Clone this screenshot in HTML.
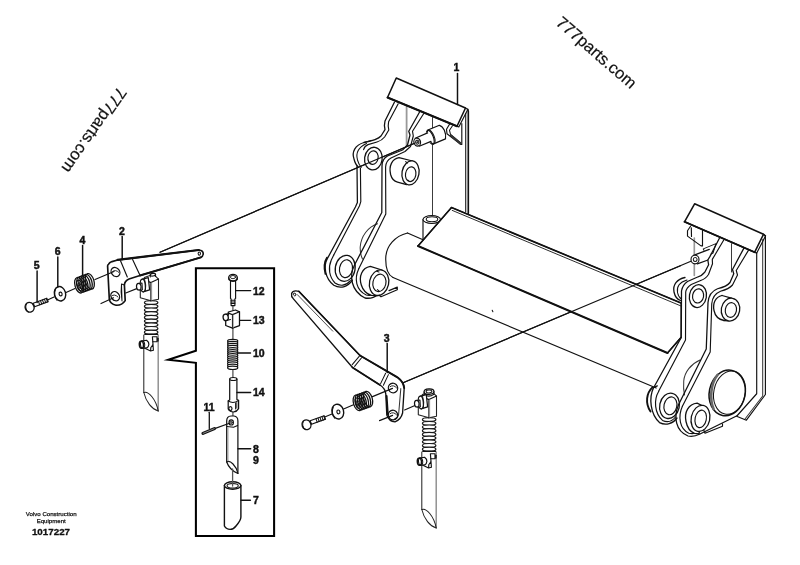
<!DOCTYPE html>
<html><head><meta charset="utf-8"><title>1017227</title>
<style>
html,body{margin:0;padding:0;background:#fff;}
body{width:800px;height:565px;overflow:hidden;font-family:"Liberation Sans",sans-serif;}
svg{display:block;will-change:transform;transform:translateZ(0);}
svg text{font-family:"Liberation Sans",sans-serif;fill:#111;}
</style></head><body>
<svg width="800" height="565" viewBox="0 0 800 565" stroke-linecap="round" stroke-linejoin="round">
<rect x="0" y="0" width="800" height="565" fill="#fff"/>
<path d="M416.5,142.5 L160,252.2" stroke="#111" stroke-width="1.15" fill="none" />
<path d="M691.5,261 L402.5,383" stroke="#111" stroke-width="1.15" fill="none" />
<path d="M406.6,106 L406.6,146" stroke="#999" stroke-width="1.79" fill="none" />
<path d="M432.5,117.5 L432.5,215.5" stroke="#333" stroke-width="0.96" fill="none" />
<path d="M467.8,109.4 L468.3,111.2 L468.3,213.3" stroke="#111" stroke-width="1.66" fill="none" />
<path d="M465.7,113.5 L465.7,212" stroke="#222" stroke-width="1.15" fill="none" />
<path d="M396.25,78 L465.5,108 L457,126.25 L387.5,97.5 Z" stroke="#111" stroke-width="1.54" fill="#fff"/>
<path d="M387.5,97.5 L457,126.25" stroke="#111" stroke-width="1.92" fill="none" />
<path d="M465.5,108 L467.8,109.4 L458.8,127 L457,126.25" stroke="#111" stroke-width="1.15" fill="none" />
<path d="M449.5,124.2 L446.5,129.3 L447,133.8 L460.6,144.4 L461.8,144.4 L461.8,123.5" stroke="#111" stroke-width="1.15" fill="none" />
<path d="M452.5,125.8 L449.5,130.3 L450.5,134.3 L460.8,142.8" stroke="#111" stroke-width="1.02" fill="none" />
<path d="M451,135.5 L460.5,143.6" stroke="#333" stroke-width="2.05" fill="none" />
<path d="M427.3,130.3 L439.4,125.3 C 443.5,126.5 446.5,133 445.5,138.9 L432.3,144.4 Z" stroke="#111" stroke-width="1.22" fill="#fff"/>
<ellipse cx="430.3" cy="137.3" rx="3.0" ry="7.4" stroke="#111" stroke-width="1.15" fill="#fff" transform="rotate(-22 430.3 137.3)"/>
<ellipse cx="431.2" cy="137.0" rx="3.0" ry="7.4" stroke="#111" stroke-width="1.02" fill="none" transform="rotate(-22 431.2 137.0)"/>
<path d="M415.2,138.2 L427.6,132.9 L431.0,141.4 L419.2,146.2 Z" stroke="#fff" stroke-width="1.15" fill="#fff"/>
<path d="M415.2,138.2 L427.6,132.9 M419.2,146.2 L431.0,141.4" stroke="#111" stroke-width="1.22" fill="none" />
<ellipse cx="417.2" cy="142.1" rx="3.3" ry="4.0" stroke="#111" stroke-width="1.22" fill="#fff" transform="rotate(-15 417.2 142.1)"/>
<ellipse cx="417.3" cy="142.2" rx="1.7" ry="2.0" stroke="#111" stroke-width="1.02" fill="none" transform="rotate(-15 417.3 142.2)"/>
<ellipse cx="417.3" cy="142.2" rx="0.6" ry="0.7" stroke="#111" stroke-width="0.9" fill="none"/>
<path d="M394.4,102.2 L385,121 L384.4,125.6 L385,129.6 L381,136 Q377.5,140 364,142.5" stroke="#111" stroke-width="1.28" fill="none" />
<path d="M398.2,103.8 L388.6,121.8 L388.2,126 L388.8,130 L384.6,137 Q381.8,140.6 377,142 L368,144.6 Q364.6,146 363.6,149.6" stroke="#111" stroke-width="1.15" fill="none" />
<path d="M371,140.5 L364,142.5 C 355,145 351.5,152 354,159 C 355,163 356.5,165.5 358,166.5" stroke="#111" stroke-width="1.28" fill="none" />
<path d="M366.5,143.5 C 359,147 355.5,153 357.5,160 C 358.5,163.5 360,166 361.2,167.5" stroke="#111" stroke-width="1.02" fill="none" />
<ellipse cx="373.4" cy="158.6" rx="8.8" ry="11.4" stroke="#111" stroke-width="1.28" fill="#fff" transform="rotate(8 373.4 158.6)"/>
<ellipse cx="373.0" cy="157.6" rx="5.1" ry="6.8" stroke="#111" stroke-width="1.15" fill="none" transform="rotate(8 373.0 157.6)"/>
<path d="M357,166.5 L357.4,202.5 L355.4,207 L328.5,256.5" stroke="#111" stroke-width="1.28" fill="none" />
<path d="M360.4,168 L360.8,201.6 L359.4,206 L333.75,255" stroke="#111" stroke-width="1.15" fill="none" />
<path d="M328.5,256.5 L327.3,258.8 C 323.3,266 324.8,278 333.8,285.3 C 340,288.8 347.5,287.4 352.4,280.2" stroke="#111" stroke-width="1.28" fill="none" />
<path d="M333.75,255 L331.3,260 C 327.8,268 329.3,277 335,283 C 340,286.6 346,285.8 350.4,280.6" stroke="#111" stroke-width="1.15" fill="none" />
<path d="M327,257.5 C 324.2,262 323.8,268 325.4,274" stroke="#111" stroke-width="1.66" fill="none" />
<ellipse cx="345.2" cy="268.3" rx="9.9" ry="13.1" stroke="#111" stroke-width="1.28" fill="none" transform="rotate(10 345.2 268.3)"/>
<ellipse cx="346" cy="268.7" rx="6.5" ry="9.0" stroke="#111" stroke-width="1.15" fill="none" transform="rotate(10 346 268.7)"/>
<path d="M377.5,223.75 C 368,227 361,236 360.2,247 C 360,252 361,256 362.5,259" stroke="#333" stroke-width="1.02" fill="none" />
<path d="M420,111.25 L408.75,131.25 L410,135 L407.5,145 L402.5,150 L387.5,156 Q382,159 382,166 L381.8,212.5 L354.5,265" stroke="#111" stroke-width="1.28" fill="none" />
<path d="M423.75,113.5 L412.5,131.25 L413.3,136 L410.5,146.5 L405,151.5 L391,158 Q385.8,161 385.6,167 L385.8,214 L358.75,268.75" stroke="#111" stroke-width="1.15" fill="none" />
<path d="M354.5,265 C 349,276 351,291 365,298 C 371,299 375,297 378,294.5" stroke="#111" stroke-width="1.28" fill="none" />
<path d="M358.75,268.75 C 354,279 356,290 366.25,295 C 370,296 373,295 375.5,293.5" stroke="#111" stroke-width="1.15" fill="none" />
<path d="M370.3,266.4 C 362,268 358.6,276 361.3,285 C 363,290.5 366.5,294 371.5,295.4 L377,295.6 L382,270 Z" stroke="#111" stroke-width="1.28" fill="#fff"/>
<ellipse cx="379.1" cy="282.7" rx="9.6" ry="12.9" stroke="#111" stroke-width="1.28" fill="#fff" transform="rotate(12 379.1 282.7)"/>
<ellipse cx="379.4" cy="282.9" rx="6.5" ry="8.8" stroke="#111" stroke-width="1.15" fill="none" transform="rotate(12 379.4 282.9)"/>
<path d="M376.6,271.2 l2.4,0.8 M377.4,289.6 l1.6,1.2" stroke="#111" stroke-width="1.02" fill="none" />
<path d="M379.1,295.3 L381,296.8 L397.3,289.8 L397.3,287.1 L389,290.6" stroke="#111" stroke-width="1.15" fill="none" />
<path d="M399,157.7 C 392,159 388.6,166 390.6,174.5 C 391.8,179 394.5,181.4 397.5,182.2 L406.6,184.6 L412.5,161 Z" stroke="#111" stroke-width="1.28" fill="#fff"/>
<ellipse cx="410.5" cy="172.9" rx="8.5" ry="12.1" stroke="#111" stroke-width="1.28" fill="#fff" transform="rotate(10 410.5 172.9)"/>
<ellipse cx="410.7" cy="174.2" rx="5.2" ry="7.4" stroke="#111" stroke-width="1.15" fill="none" transform="rotate(10 410.7 174.2)"/>
<path d="M405.6,161.6 l2,1.4 M407.6,180 l1.6,1.2" stroke="#111" stroke-width="1.02" fill="none" />
<path d="M407.5,233 C 395,236 386,246 385.75,258 C 385.5,268 388,275 393,277.5" stroke="#111" stroke-width="1.15" fill="none" />
<path d="M407.5,233 L423,239.7" stroke="#111" stroke-width="1.15" fill="none" />
<path d="M393,277.5 L656.2,388" stroke="#111" stroke-width="1.15" fill="none" />
<path d="M423,219.5 L423,239.7 M440.5,219.5 L440.5,221" stroke="#111" stroke-width="1.15" fill="none" />
<ellipse cx="431.75" cy="219.5" rx="8.75" ry="4.0" stroke="#111" stroke-width="1.15" fill="#fff"/>
<ellipse cx="432" cy="219.3" rx="5.8" ry="2.5" stroke="#111" stroke-width="1.02" fill="none"/>
<path d="M451.5,207.5 L681,303 L681,337.5 L667.5,353 L418,246 Z" stroke="#111" stroke-width="1.15" fill="#fff"/>
<path d="M418,246 L667.5,353" stroke="#111" stroke-width="1.92" fill="none" />
<path d="M451.5,207.5 L681,303" stroke="#111" stroke-width="1.66" fill="none" />
<path d="M452.2,210.4 L681,306" stroke="#222" stroke-width="0.96" fill="none" />
<path d="M451.5,207.5 L418,246" stroke="#111" stroke-width="1.41" fill="none" />
<path d="M667.5,353 L681,337.5" stroke="#111" stroke-width="1.41" fill="none" />
<path d="M680.5,265.7 L402.5,383" stroke="#111" stroke-width="1.15" fill="none" />
<path d="M492.2,310.3 l0.7,1.5" stroke="#111" stroke-width="1.02" fill="none" />
<path d="M694.3,238 L694.3,275.5" stroke="#999" stroke-width="1.66" fill="none" />
<path d="M731.5,243.6 L731.5,272" stroke="#333" stroke-width="0.96" fill="none" />
<path d="M756.7,252.6 L756.7,393.75 L737.3,415.5" stroke="#111" stroke-width="1.15" fill="none" />
<path d="M762.7,239.4 L762.7,396 L745.2,418.8" stroke="#333" stroke-width="1.02" fill="none" />
<path d="M763.5,234.3 L765.4,236 L765.4,394.5 L746.4,420.2 L736.6,416.2" stroke="#111" stroke-width="1.15" fill="none" />
<path d="M694.6,203.8 L763.5,234.3 L754.7,252.2 L684.5,221.8 Z" stroke="#111" stroke-width="1.54" fill="#fff"/>
<path d="M684.5,221.8 L754.7,252.2" stroke="#111" stroke-width="1.79" fill="none" />
<path d="M763.5,234.3 L765.6,235.8 L756.6,253.2 L754.7,252.2" stroke="#111" stroke-width="1.15" fill="none" />
<path d="M690.5,226.3 L687.5,230.8 L687.5,236.1 L701,245.9 L702.5,245.9 L702.5,230 M691.3,227.8 L691.5,236.5" stroke="#111" stroke-width="1.15" fill="none" />
<path d="M703.3,248.9 L716,243.6 L713,253 L707,256 Z" stroke="#111" stroke-width="1.02" fill="#fff"/>
<path d="M693.5,255.4 L709.3,249.4 L710.5,257.5 L708,260 L697.3,263.9 Z" stroke="#fff" stroke-width="1.15" fill="#fff"/>
<path d="M693.5,255.4 L709.3,249.4 M697.3,263.9 L708,260" stroke="#111" stroke-width="1.22" fill="none" />
<ellipse cx="695" cy="259.5" rx="4.0" ry="4.3" stroke="#111" stroke-width="1.15" fill="#fff"/>
<ellipse cx="695.2" cy="259.6" rx="1.9" ry="2.0" stroke="#111" stroke-width="1.02" fill="none"/>
<path d="M719.4,238.3 L710,256.4 L707.8,260 L708.6,264.7 L704.8,272.2 Q702,276 696.5,277.5 L687.5,281.5 Q682.5,285 681.5,291 L681.25,337.5 L653.75,387.5" stroke="#111" stroke-width="1.28" fill="none" />
<path d="M723.6,240.3 L712.3,259.4 L712.5,263.75 L708.5,274.5 Q705.5,279 701.25,280.2 L691.25,284.5 Q686.5,287.5 685.7,292 L685.5,340 L658.75,391" stroke="#111" stroke-width="1.15" fill="none" />
<path d="M685,277.5 C 677,279 672.5,285 674,292 C 675,296.5 677.5,299.5 680.5,300.5" stroke="#111" stroke-width="1.28" fill="none" />
<path d="M687,280 C 680,282 676.5,286.5 677.5,292.5 C 678.2,296 679.8,298 681.3,299" stroke="#111" stroke-width="1.02" fill="none" />
<ellipse cx="697.9" cy="296.1" rx="8.5" ry="11.5" stroke="#111" stroke-width="1.28" fill="#fff" transform="rotate(10 697.9 296.1)"/>
<ellipse cx="698.1" cy="295.9" rx="5.5" ry="7.1" stroke="#111" stroke-width="1.15" fill="none" transform="rotate(10 698.1 295.9)"/>
<path d="M657.3,385.8 L653.6,387.6 C 648.5,398 650.5,414.5 659.5,422.6 C 666,426 673,423.5 677,418" stroke="#111" stroke-width="1.28" fill="none" />
<path d="M658.75,391.25 C 653.5,400 654.5,413 662.5,420.4 C 667,422.6 672,421.4 675.5,417" stroke="#111" stroke-width="1.15" fill="none" />
<path d="M652.4,387.4 C 646.5,393 644.9,403 650.5,411.6" stroke="#111" stroke-width="1.92" fill="none" />
<ellipse cx="669.5" cy="405.8" rx="9.8" ry="12.8" stroke="#111" stroke-width="1.28" fill="none" transform="rotate(12 669.5 405.8)"/>
<ellipse cx="670.4" cy="405.8" rx="6.4" ry="9.0" stroke="#111" stroke-width="1.15" fill="none" transform="rotate(12 670.4 405.8)"/>
<path d="M700,360 C 691,364 684.5,372 683.75,381 C 683.3,387 683.6,391 684.5,395" stroke="#333" stroke-width="1.02" fill="none" />
<path d="M743.9,248.1 L732.5,269.5 L733.75,273.75 L730,282.5 Q727,286.5 717.5,288.75 Q709,292 708,302.5 L706.25,349 L678.4,405" stroke="#111" stroke-width="1.28" fill="none" />
<path d="M748.4,250.4 L736.25,270.5 L737.5,275 L732.5,285 Q729,289 720.5,291.25 Q712.5,294.5 711.75,303.75 L710.2,352 L682.4,406.25" stroke="#111" stroke-width="1.15" fill="none" />
<path d="M678.4,405 C 673.5,417 675.5,431 688,436 C 692,437 696,436 700,434 L737,415.8" stroke="#111" stroke-width="1.28" fill="none" />
<path d="M682.4,406.25 C 677.6,417 679.8,429 688.75,433.25 C 692,434 695.5,433.5 698.75,432.5" stroke="#111" stroke-width="1.15" fill="none" />
<path d="M697.1,403.1 C 688.5,404 684,412 686,421.5 C 687.2,427.5 690,431.6 694.5,433.4 L699,433.8 L703,406 Z" stroke="#111" stroke-width="1.28" fill="#fff"/>
<ellipse cx="700.5" cy="418.4" rx="9.3" ry="13.2" stroke="#111" stroke-width="1.28" fill="#fff" transform="rotate(12 700.5 418.4)"/>
<ellipse cx="700.7" cy="418.9" rx="5.6" ry="8.9" stroke="#111" stroke-width="1.15" fill="none" transform="rotate(12 700.7 418.9)"/>
<path d="M703.75,430 L705,433.25 L722.5,426.25 L722.5,423.75" stroke="#111" stroke-width="1.15" fill="none" />
<path d="M722,295.5 C 715.5,297 712.5,303 714,310.5 C 715,315.5 718.5,319.5 724,320.5" stroke="#111" stroke-width="1.28" fill="none" />
<path d="M722,295.5 L731.5,298.2 M724,320.5 L729,320.8" stroke="#111" stroke-width="1.28" fill="none" />
<ellipse cx="730.5" cy="309.6" rx="9.2" ry="11.5" stroke="#111" stroke-width="1.28" fill="#fff" transform="rotate(10 730.5 309.6)"/>
<ellipse cx="730.9" cy="310" rx="5.6" ry="7.4" stroke="#111" stroke-width="1.15" fill="none" transform="rotate(10 730.9 310)"/>
<ellipse cx="727.2" cy="392.9" rx="17.9" ry="23" stroke="#111" stroke-width="1.54" fill="#fff" transform="rotate(12 727.2 392.9)"/>
<ellipse cx="729.5" cy="392.6" rx="15.7" ry="21.9" stroke="#111" stroke-width="1.02" fill="none" transform="rotate(12 729.5 392.6)"/>
<path d="M717.6,374.8 C 710.5,384 709.5,399 713.6,409" stroke="#666" stroke-width="2.56" fill="none" />
<path d="M108.6,264.2 Q109.4,262.6 112,261.6 L117.6,260 L198.8,250 Q203.5,250.5 203.2,254 Q202.8,256.8 201,257.3 L140,275.5 L129,279 Q124.6,281 124.4,285 L125.2,300.6 Q122,305.5 116,305.2 Q110,304 109.3,299 L107.6,266 Q107.6,265 108.6,264.2 Z" stroke="#111" stroke-width="1.66" fill="#fff"/>
<path d="M117.6,259.8 L198.8,250" stroke="#111" stroke-width="2.18" fill="none" />
<path d="M201,257.3 L140,275.5" stroke="#111" stroke-width="1.92" fill="none" />
<path d="M120.5,260.8 L127.3,277 M132.6,259.6 L139.6,274.6" stroke="#111" stroke-width="1.15" fill="none" />
<path d="M121.5,284 L122,301 M124.4,285 L121.5,284 Q120.5,292 122,301" stroke="#111" stroke-width="1.02" fill="none" />
<ellipse cx="115.5" cy="272" rx="4.0" ry="4.9" stroke="#111" stroke-width="1.28" fill="none" transform="rotate(-40 115.5 272)"/>
<ellipse cx="115.2" cy="296.2" rx="4.0" ry="4.9" stroke="#111" stroke-width="1.28" fill="none" transform="rotate(-40 115.2 296.2)"/>
<path d="M112.5,271.5 q3,-2.5 6.5,1 M111.5,296 q3,-2.5 6.5,1" stroke="#111" stroke-width="0.9" fill="none" />
<ellipse cx="199.3" cy="253.6" rx="1.2" ry="1.6" stroke="#111" stroke-width="1.02" fill="none"/>
<path d="M47.5,300 L54,297 M66,292.5 L75,288.5 M95,279.5 L114,271.5" stroke="#111" stroke-width="1.15" fill="none" />
<path d="M101,303.6 L113.5,297.8 M125.8,293 L138.6,287.9" stroke="#111" stroke-width="1.15" fill="none" />
<path d="M33.2,303.2 L46.8,298.2 L48.2,301.6 L34.6,306.8 Z" stroke="#111" stroke-width="1.15" fill="#fff"/>
<path d="M38.5,301.5 l1.2,3.3 M40.5,300.7 l1.2,3.3 M42.5,300 l1.2,3.3 M44.5,299.3 l1.2,3.3 M46.3,298.6 l1.2,3.3" stroke="#111" stroke-width="1.02" fill="none" />
<ellipse cx="29.6" cy="307.3" rx="4.4" ry="4.9" stroke="#111" stroke-width="1.41" fill="#fff" transform="rotate(-20 29.6 307.3)"/>
<path d="M26.5,304 C 25,306.5 25.8,310.5 28.4,312" stroke="#111" stroke-width="1.02" fill="none" />
<ellipse cx="60" cy="293.75" rx="5.6" ry="7.3" stroke="#111" stroke-width="1.41" fill="#fff" transform="rotate(-15 60 293.75)"/>
<ellipse cx="60.6" cy="294" rx="1.5" ry="1.9" stroke="#111" stroke-width="1.15" fill="none" transform="rotate(-15 60.6 294)"/>
<path d="M55.5,289.5 C 54,292.5 54.3,297.5 57,300.3" stroke="#111" stroke-width="1.02" fill="none" />
<g transform="translate(0 0)">
<path d="M143.8,335 L143.8,392.5 C 146,402 152,409 158.2,411 L158.2,335 Z" fill="#fff" stroke="none"/>
<path d="M158.2,335 L158.2,410.6" stroke="#8a8a8a" stroke-width="1.41" fill="none" />
<path d="M143.8,335 L143.8,392.5 C 146,402 152,409 158.2,411" stroke="#222" stroke-width="1.02" fill="none" />
<path d="M143.8,392.5 C 148,390.5 156,399 158.2,411" stroke="#222" stroke-width="1.02" fill="none" />
<path d="M152.4,336.7 L157,336.7 L157,341.7 L152.8,341.7 Z" stroke="#111" stroke-width="1.15" fill="none" />
<path d="M152.8,341.7 L153.4,350.3 L150.6,351 L143.8,347.8 M150.6,351 L150.8,347.6 Q152.5,346 153.1,344" stroke="#111" stroke-width="1.15" fill="none" />
<path d="M157.9,338.5 l0,2.6" stroke="#111" stroke-width="1.54" fill="none" />
<path d="M141.3,341.1 L146.6,340.3 Q149,342 148.9,344.4 Q148.6,347 146.8,347.9 L141.6,348.3 Z" stroke="#111" stroke-width="1.15" fill="#fff"/>
<ellipse cx="141.4" cy="344.7" rx="2.1" ry="3.6" stroke="#111" stroke-width="1.41" fill="#fff" transform="rotate(-5 141.4 344.7)"/>
<ellipse cx="142.6" cy="344.6" rx="2.1" ry="3.6" stroke="#111" stroke-width="1.02" fill="none" transform="rotate(-5 142.6 344.6)"/>
<ellipse cx="151.15" cy="302.6" rx="6.75" ry="2.0" stroke="#1a1a1a" stroke-width="1.22" fill="#fff"/>
<ellipse cx="151.15" cy="306.3" rx="6.75" ry="2.0" stroke="#1a1a1a" stroke-width="1.22" fill="#fff"/>
<ellipse cx="151.15" cy="310.0" rx="6.75" ry="2.0" stroke="#1a1a1a" stroke-width="1.22" fill="#fff"/>
<ellipse cx="151.15" cy="313.7" rx="6.75" ry="2.0" stroke="#1a1a1a" stroke-width="1.22" fill="#fff"/>
<ellipse cx="151.15" cy="317.4" rx="6.75" ry="2.0" stroke="#1a1a1a" stroke-width="1.22" fill="#fff"/>
<ellipse cx="151.15" cy="321.1" rx="6.75" ry="2.0" stroke="#1a1a1a" stroke-width="1.22" fill="#fff"/>
<ellipse cx="151.15" cy="324.8" rx="6.75" ry="2.0" stroke="#1a1a1a" stroke-width="1.22" fill="#fff"/>
<ellipse cx="151.15" cy="328.5" rx="6.75" ry="2.0" stroke="#1a1a1a" stroke-width="1.22" fill="#fff"/>
<ellipse cx="151.15" cy="332.2" rx="6.75" ry="2.0" stroke="#1a1a1a" stroke-width="1.22" fill="#fff"/>
<path d="M144.8,334.4 L157.5,334.4" stroke="#111" stroke-width="1.28" fill="none" />
<path d="M140.3,288 L140.3,297.8 L150.9,300.8 L158.5,299.3 L158.5,279.1 L153.6,274.3 L144.3,277.6 L144.3,281 Z" stroke="#222" stroke-width="1.09" fill="#fff"/>
<path d="M150.9,300.8 L150.9,282.6 L158.5,279.1 M150.9,282.6 L144.3,279.8" stroke="#111" stroke-width="1.15" fill="none" />
<path d="M151.7,283 L151.7,300.3" stroke="#999" stroke-width="0.64" fill="none" />
<ellipse cx="152.9" cy="274.7" rx="2.7" ry="1.3" stroke="#111" stroke-width="1.15" fill="#fff" transform="rotate(-8 152.9 274.7)"/>
<path d="M150.3,274.9 L150.3,277 M155.5,274.3 L155.6,276.4" stroke="#111" stroke-width="1.02" fill="none" />
<path d="M142.4,279.2 L148.3,277.7 L149.6,289.9 L143.1,291.8 Z" stroke="#111" stroke-width="1.22" fill="#fff"/>
<ellipse cx="142.8" cy="285.5" rx="2.5" ry="6.3" stroke="#111" stroke-width="1.22" fill="#fff" transform="rotate(-5 142.8 285.5)"/>
<path d="M144.6,279.2 Q146.6,285 145.4,291" stroke="#111" stroke-width="0.9" fill="none" />
<path d="M138.6,283.4 L142,283 L142.4,289.7 L139,290 Z" stroke="#111" stroke-width="1.02" fill="#fff"/>
<ellipse cx="138.8" cy="286.7" rx="2.3" ry="3.3" stroke="#111" stroke-width="1.22" fill="#fff" transform="rotate(-5 138.8 286.7)"/>
</g>
<ellipse cx="89.8" cy="281.4" rx="4.2" ry="8.0" stroke="#111" stroke-width="1.28" fill="#fff" transform="rotate(-16 89.8 281.4)"/>
<ellipse cx="87.68" cy="282.16" rx="4.2" ry="8.0" stroke="#111" stroke-width="1.28" fill="none" transform="rotate(-16 87.68 282.16)"/>
<ellipse cx="85.56" cy="282.92" rx="4.2" ry="8.0" stroke="#111" stroke-width="1.28" fill="none" transform="rotate(-16 85.56 282.92)"/>
<ellipse cx="83.44" cy="283.68" rx="4.2" ry="8.0" stroke="#111" stroke-width="1.28" fill="none" transform="rotate(-16 83.44 283.68)"/>
<ellipse cx="81.32" cy="284.44" rx="4.2" ry="8.0" stroke="#111" stroke-width="1.28" fill="none" transform="rotate(-16 81.32 284.44)"/>
<ellipse cx="79.2" cy="285.2" rx="4.2" ry="8.0" stroke="#111" stroke-width="1.28" fill="none" transform="rotate(-16 79.2 285.2)"/>
<ellipse cx="79.5" cy="285.4" rx="2.604" ry="5.28" stroke="#111" stroke-width="1.15" fill="none" transform="rotate(-16 79.5 285.4)"/>
<ellipse cx="79.7" cy="285.6" rx="1.26" ry="2.88" stroke="#111" stroke-width="1.02" fill="none" transform="rotate(-16 79.7 285.6)"/>
<text x="122" y="235" font-size="10.5" font-weight="bold" text-anchor="middle"  stroke="#111" stroke-width="0.45" stroke-linejoin="miter">2</text>
<path d="M122.2,236.5 L122.2,259.5" stroke="#111" stroke-width="1.47" fill="none" />
<text x="82.5" y="243.6" font-size="10.5" font-weight="bold" text-anchor="middle"  stroke="#111" stroke-width="0.45" stroke-linejoin="miter">4</text>
<path d="M82.6,245.5 L82.6,276" stroke="#111" stroke-width="1.47" fill="none" />
<text x="57.7" y="254.6" font-size="10.5" font-weight="bold" text-anchor="middle"  stroke="#111" stroke-width="0.45" stroke-linejoin="miter">6</text>
<path d="M57.8,257 L57.8,287" stroke="#111" stroke-width="1.47" fill="none" />
<text x="36.6" y="268.6" font-size="10.5" font-weight="bold" text-anchor="middle"  stroke="#111" stroke-width="0.45" stroke-linejoin="miter">5</text>
<path d="M37.1,271 L37.1,302.5" stroke="#111" stroke-width="1.47" fill="none" />
<text x="456.5" y="70.8" font-size="10.5" font-weight="bold" text-anchor="middle"  stroke="#111" stroke-width="0.45" stroke-linejoin="miter">1</text>
<path d="M457.5,73.5 L457.5,104.5" stroke="#111" stroke-width="1.47" fill="none" />
<path d="M195.9,350.7 L195.9,268.2 L274.1,268.2 L274.1,536 L195.9,536 L195.9,362.8 L168.3,359.7 Z" stroke="#000" stroke-width="2.05" fill="#fff" stroke-linejoin="miter" stroke-miterlimit="10"/>
<path d="M232.9,300 L232.9,312 M232.9,328 L232.9,340 M232.9,369 L232.9,378 M232.9,411 L232.9,418" stroke="#555" stroke-width="1.28" fill="none" />
<path d="M230.5,280 L230.5,298.4 L231.1,298.9 L231.1,305.6 L234.9,305.6 L234.9,298.9 L235.6,298.4 L235.6,280 Z" stroke="#111" stroke-width="1.15" fill="#fff"/>
<path d="M231.1,300.3 h3.8 M231.1,301.9 h3.8 M231.1,303.5 h3.8" stroke="#111" stroke-width="1.02" fill="none" />
<ellipse cx="233" cy="277.6" rx="4.3" ry="3.2" stroke="#111" stroke-width="1.28" fill="#fff"/>
<ellipse cx="233" cy="277.1" rx="2.6" ry="1.6" stroke="#111" stroke-width="0.9" fill="none"/>
<path d="M228.8,277.8 L228.8,279.6 Q233,283 237.3,279.6 L237.3,277.8" stroke="#111" stroke-width="1.15" fill="none" />
<path d="M235.8,290.6 L250.7,290.6" stroke="#111" stroke-width="1.41" fill="none" />
<text x="253" y="294.9" font-size="10.5" font-weight="bold" text-anchor="start"  stroke="#111" stroke-width="0.45" stroke-linejoin="miter">12</text>
<g transform="translate(-0.5 -1)">
<path d="M226.2,320.5 L226.2,326.5 L233,329.2 L240,326.6 L240,312.8 L236,311 L228.8,313 L228.8,316 Z" stroke="#111" stroke-width="1.28" fill="#fff"/>
<path d="M233,329.2 L233,315.6 L240,312.8 M233,315.6 L228.8,314.2" stroke="#111" stroke-width="1.15" fill="none" />
<path d="M233.7,316 L233.7,328.8" stroke="#888" stroke-width="0.77" fill="none" />
<ellipse cx="226.2" cy="318.4" rx="2.6" ry="3.3" stroke="#111" stroke-width="1.28" fill="#fff" transform="rotate(-10 226.2 318.4)"/>
<path d="M226.2,315.2 L230.5,314.3 M227,321.6 L231,320.6" stroke="#111" stroke-width="1.02" fill="none" />
</g>
<path d="M239.8,320.4 L250.7,320.4" stroke="#111" stroke-width="1.41" fill="none" />
<text x="253" y="324.3" font-size="10.5" font-weight="bold" text-anchor="start"  stroke="#111" stroke-width="0.45" stroke-linejoin="miter">13</text>
<ellipse cx="232.7" cy="341.0" rx="5.1" ry="1.7" stroke="#111" stroke-width="1.22" fill="#fff"/>
<ellipse cx="232.7" cy="343.06" rx="5.1" ry="1.7" stroke="#111" stroke-width="1.22" fill="#fff"/>
<ellipse cx="232.7" cy="345.12" rx="5.1" ry="1.7" stroke="#111" stroke-width="1.22" fill="#fff"/>
<ellipse cx="232.7" cy="347.18" rx="5.1" ry="1.7" stroke="#111" stroke-width="1.22" fill="#fff"/>
<ellipse cx="232.7" cy="349.25" rx="5.1" ry="1.7" stroke="#111" stroke-width="1.22" fill="#fff"/>
<ellipse cx="232.7" cy="351.31" rx="5.1" ry="1.7" stroke="#111" stroke-width="1.22" fill="#fff"/>
<ellipse cx="232.7" cy="353.37" rx="5.1" ry="1.7" stroke="#111" stroke-width="1.22" fill="#fff"/>
<ellipse cx="232.7" cy="355.43" rx="5.1" ry="1.7" stroke="#111" stroke-width="1.22" fill="#fff"/>
<ellipse cx="232.7" cy="357.49" rx="5.1" ry="1.7" stroke="#111" stroke-width="1.22" fill="#fff"/>
<ellipse cx="232.7" cy="359.55" rx="5.1" ry="1.7" stroke="#111" stroke-width="1.22" fill="#fff"/>
<ellipse cx="232.7" cy="361.62" rx="5.1" ry="1.7" stroke="#111" stroke-width="1.22" fill="#fff"/>
<ellipse cx="232.7" cy="363.68" rx="5.1" ry="1.7" stroke="#111" stroke-width="1.22" fill="#fff"/>
<ellipse cx="232.7" cy="365.74" rx="5.1" ry="1.7" stroke="#111" stroke-width="1.22" fill="#fff"/>
<ellipse cx="232.7" cy="367.8" rx="5.1" ry="1.7" stroke="#111" stroke-width="1.22" fill="#fff"/>
<path d="M238,353 L250.5,353" stroke="#111" stroke-width="1.41" fill="none" />
<text x="253" y="356.9" font-size="10.5" font-weight="bold" text-anchor="start"  stroke="#111" stroke-width="0.45" stroke-linejoin="miter">10</text>
<path d="M229.7,379 L229.7,400 L228.2,400.8 L228.2,409 Q230,412 233.5,412 Q237,411.5 238.6,408.6 L238.6,400.4 L236.9,399.6 L236.9,379 Z" stroke="#111" stroke-width="1.22" fill="#fff"/>
<ellipse cx="233.3" cy="379" rx="3.6" ry="1.5" stroke="#111" stroke-width="1.15" fill="#fff"/>
<path d="M228.2,401 Q233,404 238.6,400.6" stroke="#111" stroke-width="1.02" fill="none" />
<ellipse cx="230.4" cy="408.6" rx="1.6" ry="2.0" stroke="#111" stroke-width="1.15" fill="none"/>
<path d="M235.5,403 l0,6 M236.8,402.6 l0,5.6" stroke="#111" stroke-width="0.9" fill="none" />
<path d="M237,392.5 L250.7,392.5" stroke="#111" stroke-width="1.41" fill="none" />
<text x="253" y="396.3" font-size="10.5" font-weight="bold" text-anchor="start"  stroke="#111" stroke-width="0.45" stroke-linejoin="miter">14</text>
<path d="M226.7,421 Q226.7,416.2 231,416 L234,416 Q237.9,416.4 237.9,421 L237.9,473.5 C 233,471.5 228.5,467 226.7,462 Z" stroke="#111" stroke-width="1.22" fill="#fff"/>
<path d="M226.7,462 C 230,459.5 236.5,466 237.9,473.5" stroke="#111" stroke-width="1.15" fill="none" />
<path d="M228,428 L228,461" stroke="#888" stroke-width="0.77" fill="none" />
<path d="M227,426.4 L233.5,427.3 L237.6,425.5" stroke="#111" stroke-width="1.02" fill="none" />
<ellipse cx="231.2" cy="422.4" rx="2.2" ry="2.6" stroke="#111" stroke-width="1.15" fill="none"/>
<ellipse cx="231.2" cy="422.4" rx="1.0" ry="1.2" stroke="#111" stroke-width="0.9" fill="none"/>
<path d="M238,448.7 L250.7,448.7" stroke="#111" stroke-width="1.41" fill="none" />
<text x="253" y="453" font-size="10.5" font-weight="bold" text-anchor="start"  stroke="#111" stroke-width="0.45" stroke-linejoin="miter">8</text>
<text x="253" y="463.6" font-size="10.5" font-weight="bold" text-anchor="start"  stroke="#111" stroke-width="0.45" stroke-linejoin="miter">9</text>
<path d="M214.6,428.6 L229.5,423.2" stroke="#111" stroke-width="1.15" fill="none" />
<path d="M203,433.4 L214.4,428.6" stroke="#111" stroke-width="3.2" stroke-linecap="round" fill="none"/>
<path d="M203.2,433.3 L214.2,428.7" stroke="#aaa" stroke-width="0.8" stroke-linecap="round" fill="none"/>
<path d="M209.3,412.3 L209.3,428.5" stroke="#111" stroke-width="1.28" fill="none" />
<text x="209" y="410.8" font-size="10.5" font-weight="bold" text-anchor="middle"  stroke="#111" stroke-width="0.45" stroke-linejoin="miter">11</text>
<path d="M224.4,485.5 L224.4,526 C 227,530.5 233,530.5 236,526 C 239,522.5 240.9,520 240.9,517 L240.9,485.5 Z" stroke="#111" stroke-width="1.41" fill="#fff"/>
<ellipse cx="232.65" cy="485.5" rx="8.25" ry="3.7" stroke="#111" stroke-width="1.41" fill="#fff"/>
<ellipse cx="232.65" cy="485.8" rx="5.6" ry="2.3" stroke="#111" stroke-width="1.02" fill="none"/>
<path d="M232.6,469 L232.6,486" stroke="#555" stroke-width="1.28" fill="none" />
<path d="M241,500.3 L250.4,500.3" stroke="#111" stroke-width="1.41" fill="none" />
<text x="253" y="504.4" font-size="10.5" font-weight="bold" text-anchor="start"  stroke="#111" stroke-width="0.45" stroke-linejoin="miter">7</text>
<path d="M298.75,291.3 Q293,289.8 291.6,293.6 Q291,296.6 293.2,298.6 L352.5,367.5 L379.6,384.8 Q385.4,388.5 385.8,394 L386.8,415 Q389,421.5 395,421.8 Q401,419.5 402.6,413 L404.2,388 Q403.5,382 398,377.8 L396.2,376.6 L360,355.5 Z" stroke="#111" stroke-width="1.34" fill="#fff"/>
<path d="M298.75,291.3 L360,355.5" stroke="#111" stroke-width="1.47" fill="none" />
<path d="M360,355.5 L396.2,376.6 L398,377.8 Q403.5,382 404.2,388" stroke="#111" stroke-width="1.92" fill="none" />
<path d="M352.5,367.5 L379.6,384.8" stroke="#111" stroke-width="1.73" fill="none" />
<path d="M297.3,294.6 L332.8,331.2" stroke="#444" stroke-width="0.96" fill="none" />
<path d="M352.2,364.6 L359.2,356.4 M354.6,366.4 L361.6,357.8 M380.6,383.6 L385.6,373.2 M383.4,385.2 L388.4,374.6" stroke="#111" stroke-width="1.02" fill="none" />
<path d="M400.8,388.6 L398.6,414.5 Q397.4,418.5 394,419.6" stroke="#333" stroke-width="1.02" fill="none" />
<path d="M386.6,396 L387.8,414.4" stroke="#111" stroke-width="1.92" fill="none" />
<ellipse cx="393" cy="388" rx="4.6" ry="4.8" stroke="#111" stroke-width="1.28" fill="none" transform="rotate(-25 393 388)"/>
<ellipse cx="393" cy="415" rx="4.6" ry="4.8" stroke="#111" stroke-width="1.28" fill="none" transform="rotate(-25 393 415)"/>
<path d="M390,386.7 q3.4,-2.6 6.6,1.2 M390,413.7 q3.4,-2.6 6.6,1.2" stroke="#111" stroke-width="0.9" fill="none" />
<ellipse cx="294.6" cy="294.5" rx="1.1" ry="1.5" stroke="#111" stroke-width="0.9" fill="none" transform="rotate(-40 294.6 294.5)"/>
<path d="M325.3,416.8 L332,414 M343.6,409 L353.5,404.8 M372.5,396.6 L392.5,388.4" stroke="#111" stroke-width="1.15" fill="none" />
<path d="M379.5,420.6 L392.6,415.4 M404.6,410 L415.5,405.2" stroke="#111" stroke-width="1.15" fill="none" />
<path d="M310.1,420.7 L324.1,415.7 L325.5,419.1 L311.5,424.3 Z" stroke="#111" stroke-width="1.15" fill="#fff"/>
<path d="M316,418.9 l1.2,3.3 M318,418.2 l1.2,3.3 M320,417.5 l1.2,3.3 M322,416.8 l1.2,3.3 M323.8,416.1 l1.2,3.3" stroke="#111" stroke-width="1.02" fill="none" />
<ellipse cx="306.5" cy="424.7" rx="4.4" ry="4.9" stroke="#111" stroke-width="1.41" fill="#fff" transform="rotate(-20 306.5 424.7)"/>
<path d="M303.4,421.4 C 301.9,423.9 302.7,427.9 305.3,429.4" stroke="#111" stroke-width="1.02" fill="none" />
<ellipse cx="337.8" cy="411.6" rx="5.8" ry="7.5" stroke="#111" stroke-width="1.41" fill="#fff" transform="rotate(-15 337.8 411.6)"/>
<ellipse cx="338.4" cy="411.9" rx="1.5" ry="1.9" stroke="#111" stroke-width="1.15" fill="none" transform="rotate(-15 338.4 411.9)"/>
<path d="M333.2,407.4 C 331.7,410.4 332,415.4 334.7,418.1" stroke="#111" stroke-width="1.02" fill="none" />
<ellipse cx="368.1" cy="399.1" rx="4.2" ry="8.0" stroke="#111" stroke-width="1.28" fill="#fff" transform="rotate(-16 368.1 399.1)"/>
<ellipse cx="366.02" cy="399.86" rx="4.2" ry="8.0" stroke="#111" stroke-width="1.28" fill="none" transform="rotate(-16 366.02 399.86)"/>
<ellipse cx="363.94" cy="400.62" rx="4.2" ry="8.0" stroke="#111" stroke-width="1.28" fill="none" transform="rotate(-16 363.94 400.62)"/>
<ellipse cx="361.86" cy="401.38" rx="4.2" ry="8.0" stroke="#111" stroke-width="1.28" fill="none" transform="rotate(-16 361.86 401.38)"/>
<ellipse cx="359.78" cy="402.14" rx="4.2" ry="8.0" stroke="#111" stroke-width="1.28" fill="none" transform="rotate(-16 359.78 402.14)"/>
<ellipse cx="357.7" cy="402.9" rx="4.2" ry="8.0" stroke="#111" stroke-width="1.28" fill="none" transform="rotate(-16 357.7 402.9)"/>
<ellipse cx="358.0" cy="403.1" rx="2.604" ry="5.28" stroke="#111" stroke-width="1.15" fill="none" transform="rotate(-16 358.0 403.1)"/>
<ellipse cx="358.2" cy="403.3" rx="1.26" ry="2.88" stroke="#111" stroke-width="1.02" fill="none" transform="rotate(-16 358.2 403.3)"/>
<g transform="translate(278 117)">
<path d="M143.8,335 L143.8,392.5 C 146,402 152,409 158.2,411 L158.2,335 Z" fill="#fff" stroke="none"/>
<path d="M158.2,335 L158.2,410.6" stroke="#8a8a8a" stroke-width="1.41" fill="none" />
<path d="M143.8,335 L143.8,392.5 C 146,402 152,409 158.2,411" stroke="#222" stroke-width="1.02" fill="none" />
<path d="M143.8,392.5 C 148,390.5 156,399 158.2,411" stroke="#222" stroke-width="1.02" fill="none" />
<path d="M152.4,336.7 L157,336.7 L157,341.7 L152.8,341.7 Z" stroke="#111" stroke-width="1.15" fill="none" />
<path d="M152.8,341.7 L153.4,350.3 L150.6,351 L143.8,347.8 M150.6,351 L150.8,347.6 Q152.5,346 153.1,344" stroke="#111" stroke-width="1.15" fill="none" />
<path d="M157.9,338.5 l0,2.6" stroke="#111" stroke-width="1.54" fill="none" />
<path d="M141.3,341.1 L146.6,340.3 Q149,342 148.9,344.4 Q148.6,347 146.8,347.9 L141.6,348.3 Z" stroke="#111" stroke-width="1.15" fill="#fff"/>
<ellipse cx="141.4" cy="344.7" rx="2.1" ry="3.6" stroke="#111" stroke-width="1.41" fill="#fff" transform="rotate(-5 141.4 344.7)"/>
<ellipse cx="142.6" cy="344.6" rx="2.1" ry="3.6" stroke="#111" stroke-width="1.02" fill="none" transform="rotate(-5 142.6 344.6)"/>
<ellipse cx="151.15" cy="302.6" rx="6.75" ry="2.0" stroke="#1a1a1a" stroke-width="1.22" fill="#fff"/>
<ellipse cx="151.15" cy="306.3" rx="6.75" ry="2.0" stroke="#1a1a1a" stroke-width="1.22" fill="#fff"/>
<ellipse cx="151.15" cy="310.0" rx="6.75" ry="2.0" stroke="#1a1a1a" stroke-width="1.22" fill="#fff"/>
<ellipse cx="151.15" cy="313.7" rx="6.75" ry="2.0" stroke="#1a1a1a" stroke-width="1.22" fill="#fff"/>
<ellipse cx="151.15" cy="317.4" rx="6.75" ry="2.0" stroke="#1a1a1a" stroke-width="1.22" fill="#fff"/>
<ellipse cx="151.15" cy="321.1" rx="6.75" ry="2.0" stroke="#1a1a1a" stroke-width="1.22" fill="#fff"/>
<ellipse cx="151.15" cy="324.8" rx="6.75" ry="2.0" stroke="#1a1a1a" stroke-width="1.22" fill="#fff"/>
<ellipse cx="151.15" cy="328.5" rx="6.75" ry="2.0" stroke="#1a1a1a" stroke-width="1.22" fill="#fff"/>
<ellipse cx="151.15" cy="332.2" rx="6.75" ry="2.0" stroke="#1a1a1a" stroke-width="1.22" fill="#fff"/>
<path d="M144.8,334.4 L157.5,334.4" stroke="#111" stroke-width="1.28" fill="none" />
<path d="M140.3,288 L140.3,297.8 L150.9,300.8 L158.5,299.3 L158.5,279.1 L153.6,274.3 L144.3,277.6 L144.3,281 Z" stroke="#222" stroke-width="1.09" fill="#fff"/>
<path d="M150.9,300.8 L150.9,282.6 L158.5,279.1 M150.9,282.6 L144.3,279.8" stroke="#111" stroke-width="1.15" fill="none" />
<path d="M151.7,283 L151.7,300.3" stroke="#999" stroke-width="0.64" fill="none" />
<path d="M146.2,274.8 L146.2,277.6 Q151,281 155.9,277.2 L155.9,274.6 Z" stroke="#111" stroke-width="1.15" fill="#fff"/>
<ellipse cx="151" cy="274.6" rx="4.9" ry="2.7" stroke="#111" stroke-width="1.28" fill="#fff" transform="rotate(-3 151 274.6)"/>
<ellipse cx="151" cy="274.5" rx="2.9" ry="1.4" stroke="#111" stroke-width="1.02" fill="none" transform="rotate(-3 151 274.5)"/>
<path d="M142.4,279.2 L148.3,277.7 L149.6,289.9 L143.1,291.8 Z" stroke="#111" stroke-width="1.22" fill="#fff"/>
<ellipse cx="142.8" cy="285.5" rx="2.5" ry="6.3" stroke="#111" stroke-width="1.22" fill="#fff" transform="rotate(-5 142.8 285.5)"/>
<path d="M144.6,279.2 Q146.6,285 145.4,291" stroke="#111" stroke-width="0.9" fill="none" />
<path d="M138.6,283.4 L142,283 L142.4,289.7 L139,290 Z" stroke="#111" stroke-width="1.02" fill="#fff"/>
<ellipse cx="138.8" cy="286.7" rx="2.3" ry="3.3" stroke="#111" stroke-width="1.22" fill="#fff" transform="rotate(-5 138.8 286.7)"/>
</g>
<text x="386.6" y="342.4" font-size="10.5" font-weight="bold" text-anchor="middle"  stroke="#111" stroke-width="0.45" stroke-linejoin="miter">3</text>
<path d="M387.2,343.6 L387.2,372.5" stroke="#111" stroke-width="1.47" fill="none" />
<path d="M414.5,143.3 L160,252.2" stroke="#111" stroke-width="1.15" fill="none" />
<text transform="translate(555.1,24) rotate(41)" font-size="16.5" fill="#111" stroke="#111" stroke-width="0.2">777parts.com</text>
<text transform="translate(118.2,86) rotate(125)" font-size="16.5" fill="#111" stroke="#111" stroke-width="0.2">777parts.com</text>
<text x="51.2" y="516" font-size="6.1" font-weight="normal" text-anchor="middle" stroke="#111" stroke-width="0.25">Volvo Construction</text>
<text x="51.2" y="523.2" font-size="6.1" font-weight="normal" text-anchor="middle" stroke="#111" stroke-width="0.25">Equipment</text>
<text x="51" y="535" font-size="9.8" font-weight="bold" text-anchor="middle" stroke="#111" stroke-width="0.3">1017227</text>
</svg>
</body></html>
